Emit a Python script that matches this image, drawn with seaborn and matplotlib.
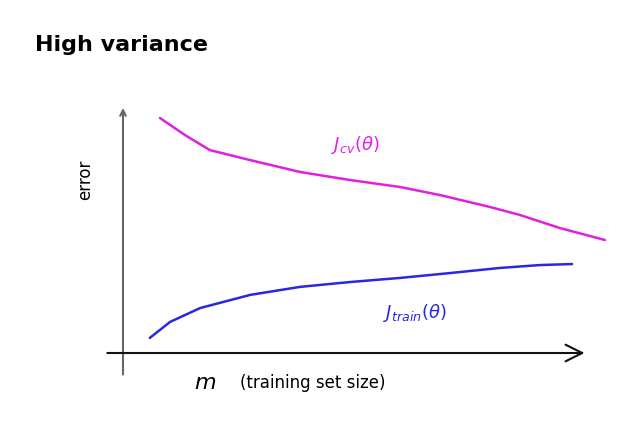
import matplotlib
matplotlib.use("Agg")
import matplotlib.pyplot as plt
import seaborn as sns
import pandas as pd

m_cv = [0.80, 1.34, 1.88, 2.75, 3.83, 4.91, 6.00, 6.86, 7.94, 8.59, 9.46, 10.43]
j_cv = [9.67, 8.97, 8.35, 7.94, 7.45, 7.12, 6.83, 6.50, 6.01, 5.68, 5.14, 4.65]
m_tr = [0.58, 1.02, 1.67, 2.75, 3.83, 4.91, 6.00, 7.08, 8.16, 9.03, 9.72]
j_tr = [0.62, 1.28, 1.85, 2.39, 2.72, 2.92, 3.09, 3.29, 3.50, 3.62, 3.66]

sns.set_style("white")
fig = plt.figure(figsize=(6.24, 4.32), dpi=100)
ax = fig.add_axes([123/624, 79/432, 462/624, 243/432])
ax.set_xlim(0, 10); ax.set_ylim(0, 10)
for s in ax.spines.values():
    s.set_visible(False)
ax.set_xticks([]); ax.set_yticks([])

cv = pd.DataFrame({"m": m_cv, "J": j_cv})
tr = pd.DataFrame({"m": m_tr, "J": j_tr})
sns.lineplot(data=cv, x="m", y="J", ax=ax, color="#e020e0", lw=1.8, sort=False, clip_on=False)
sns.lineplot(data=tr, x="m", y="J", ax=ax, color="#2828e0", lw=1.8, sort=False, clip_on=False)
ax.set_xlabel(""); ax.set_ylabel("")

ax.annotate("", xy=(0, 10.2), xytext=(0, -1.0), xycoords="data",
            arrowprops=dict(arrowstyle="->", color="#666666", lw=1.5), annotation_clip=False)
ax.annotate("", xy=(10.05, 0), xytext=(-0.4, 0),
            arrowprops=dict(arrowstyle="->,head_length=1.2,head_width=0.6", color="#111111", lw=1.5),
            annotation_clip=False)

fig.text(35/624, 1-45/432, "High variance", fontsize=16, fontweight="bold", va="center", color="black")
fig.text(85/624, 1-180/432, "error", rotation=90, fontsize=12, va="center", ha="center", color="black")
fig.text(205/624, 1-383/432, "$m$", fontsize=16, va="center", ha="center", color="black")
fig.text(240/624, 1-383/432, "(training set size)", fontsize=12, va="center", ha="left", color="black")
fig.text(355/624, 1-145/432, r"$J_{cv}(\theta)$", fontsize=13, color="#e020e0", va="center", ha="center")
fig.text(415/624, 1-313/432, r"$J_{train}(\theta)$", fontsize=13, color="#2828e0", va="center", ha="center")

fig.savefig("out.png", dpi=100)
